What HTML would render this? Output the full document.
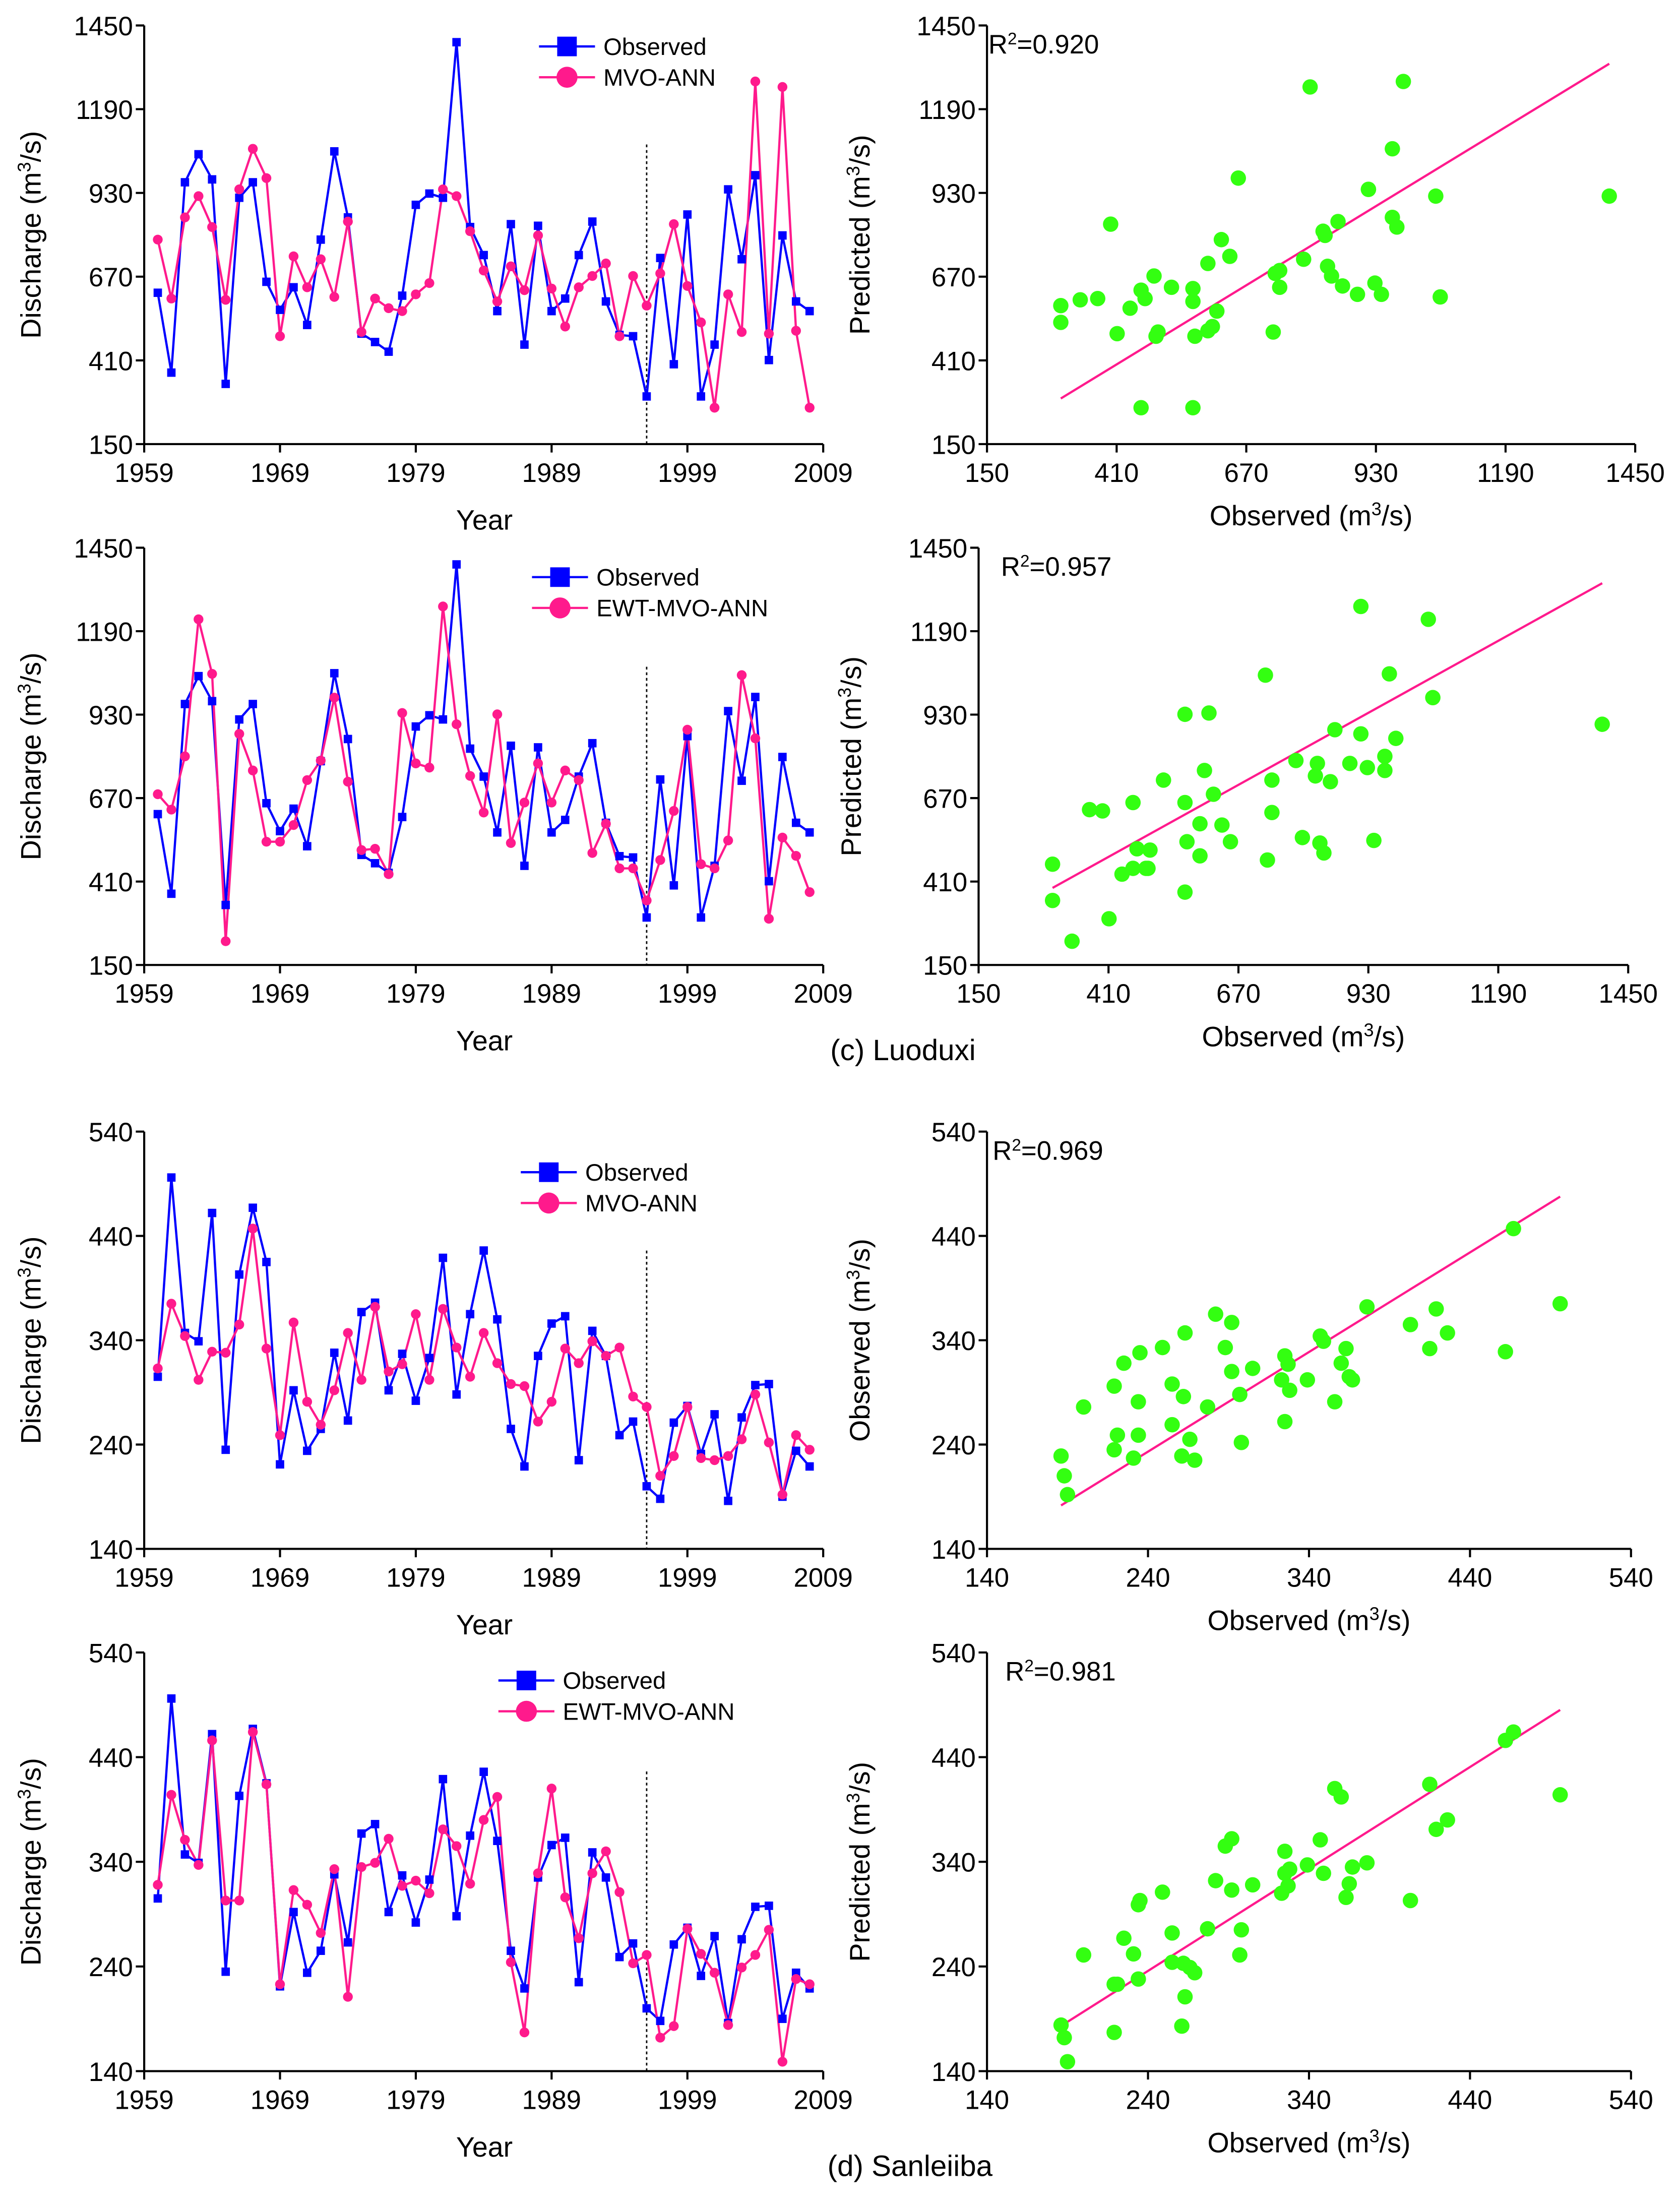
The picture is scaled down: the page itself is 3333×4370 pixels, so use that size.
<!DOCTYPE html>
<html><head><meta charset="utf-8"><style>
html,body{margin:0;padding:0;background:#fff;}
svg{display:block;font-family:"Liberation Sans",Arial,sans-serif;}
</style></head><body>
<svg id="fig" width="3333" height="4370" viewBox="0 0 1200 1573" xmlns="http://www.w3.org/2000/svg">
<rect width="1200" height="1573" fill="#fff"/>
<text x="645" y="757" font-size="21" text-anchor="middle">(c) Luoduxi</text>
<text x="650" y="1554" font-size="21" text-anchor="middle">(d) Sanleiiba</text>
</svg>
<script>
const years = [];
for (let y = 1960; y <= 2008; y++) years.push(y);
const luoObserved = [620,372,963,1050,972,337,915,963,654,567,637,520,785,1059,854,493,467,437,611,893,928,915,1398,824,737,563,833,459,828,563,602,737,841,593,489,485,298,728,398,863,298,459,941,724,985,411,798,593,563];
const luoMvo = [785,602,854,920,824,598,941,1067,976,485,733,637,724,607,841,498,602,572,563,615,650,941,920,811,689,593,702,628,798,633,515,637,672,711,485,672,580,680,833,641,528,263,615,498,1276,493,1259,502,263];
const luoEwt = [682,634,800,1227,1057,224,870,756,534,534,586,726,787,983,721,508,512,433,935,778,765,1267,900,739,625,931,530,656,778,656,756,726,499,590,451,451,351,477,630,883,464,451,538,1053,856,294,547,490,377];
const sanObserved = [305,496,347,339,462,235,403,467,415,221,292,234,255,328,263,367,376,292,327,282,323,419,288,365,426,360,255,219,325,356,363,225,349,325,249,262,200,188,261,277,231,269,186,266,297,298,190,234,219];
const sanMvo = [313,375,344,302,329,328,355,447,332,249,357,281,259,292,347,302,372,310,317,365,302,370,333,305,347,318,298,296,262,281,332,318,339,325,333,286,276,210,229,276,227,225,229,245,288,242,192,249,235];
const sanEwt = [318,404,361,337,456,303,303,464,414,223,313,299,272,333,211,335,339,362,317,322,310,371,355,319,380,402,244,177,329,410,306,267,329,350,311,243,251,172,183,276,252,234,184,239,251,275,149,228,223];
const luoTicks = [150,410,670,930,1190,1450];
const sanTicks = [140,240,340,440,540];
const yearTicks = [1959,1969,1979,1989,1999,2009];
const r2Labels = ["0.920","0.957","0.969","0.981"];
const fitSlopes = [0.945,0.863,0.955,0.974];
const fitIntercepts = [10,133,4,2];

const svg = document.getElementById('fig');
const NS = 'http://www.w3.org/2000/svg';
function mk(tag, attrs, parent){const e=document.createElementNS(NS,tag);for(const k in attrs)e.setAttribute(k,attrs[k]);(parent||svg).appendChild(e);return e;}
function txt(x,y,s,size,anchor,parent){const t=mk('text',{x:x,y:y,'font-size':size,'text-anchor':anchor||'middle'},parent);t.textContent=s;return t;}
function unitLabel(t,pre){t.textContent=pre+' (m';const s=document.createElementNS(NS,'tspan');s.setAttribute('baseline-shift','super');s.setAttribute('font-size','13');s.textContent='3';t.appendChild(s);const s2=document.createElementNS(NS,'tspan');s2.textContent='/s)';t.appendChild(s2);}

function timePanel(name,top,bot,ticks,obs,pred,predName,legX,legY){
  const g=mk('g',{});
  
  
  const x0=103,x1=588,lo=ticks[0],hi=ticks[ticks.length-1];
  const sx=y=>x0+(y-1959)/50*(x1-x0);
  const sy=v=>bot-(v-lo)/(hi-lo)*(bot-top);
  const ax=mk('path',{d:`M${x0},${top}V${bot}H${x1}`,stroke:'#000','stroke-width':1.5,fill:'none'},g);
  
  
  ticks.forEach(v=>{mk('line',{x1:x0-6,x2:x0,y1:sy(v),y2:sy(v),stroke:'#000','stroke-width':1.5},g);
    const t=txt(x0-8,sy(v)+7,String(v),19,'end',g);});
  yearTicks.forEach(y=>{mk('line',{x1:sx(y),x2:sx(y),y1:bot,y2:bot+6,stroke:'#000','stroke-width':1.5},g);
    const t=txt(sx(y),bot+27,String(y),19,'middle',g);});
  const yl=txt(0,0,'',20,'middle',g);unitLabel(yl,'Discharge');yl.setAttribute('transform',`translate(29,${(top+bot)/2}) rotate(-90)`);
  
  const xl=txt(346,bot+61,'Year',20,'middle',g);
  const dl=mk('line',{x1:sx(1996),x2:sx(1996),y1:top+85,y2:bot,stroke:'#000','stroke-width':1,'stroke-dasharray':'2,2'},g);
  
  const op=mk('polyline',{points:obs.map((v,i)=>sx(years[i])+','+sy(v)).join(' '),fill:'none',stroke:'#0000ff','stroke-width':1.6},g);
  
  const pp=mk('polyline',{points:pred.map((v,i)=>sx(years[i])+','+sy(v)).join(' '),fill:'none',stroke:'#ff1a8c','stroke-width':1.6},g);
  
  obs.forEach((v,i)=>{const r=mk('rect',{x:sx(years[i])-3,y:sy(v)-3,width:6,height:6,fill:'#0000ff'},g);
    });
  pred.forEach((v,i)=>{const c=mk('circle',{cx:sx(years[i]),cy:sy(v),r:3.5,fill:'#ff1a8c'},g);
    });
  const l1=mk('g',{},g);
  mk('line',{x1:legX,x2:legX+40,y1:legY,y2:legY,stroke:'#0000ff','stroke-width':1.6},l1);
  mk('rect',{x:legX+13,y:legY-7,width:14,height:14,fill:'#0000ff'},l1);
  txt(legX+46,legY+6,'Observed',17,'start',l1);
  const l2=mk('g',{},g);
  mk('line',{x1:legX,x2:legX+40,y1:legY+22,y2:legY+22,stroke:'#ff1a8c','stroke-width':1.6},l2);
  mk('circle',{cx:legX+20,cy:legY+22,r:7.5,fill:'#ff1a8c'},l2);
  txt(legX+46,legY+28,predName,17,'start',l2);
}

function scatterPanel(name,idx,x0,x1,top,bot,ticks,obs,pred,r2x,yTitle){
  const g=mk('g',{});
  
  
  const lo=ticks[0],hi=ticks[ticks.length-1];
  const sx=v=>x0+(v-lo)/(hi-lo)*(x1-x0);
  const sy=v=>bot-(v-lo)/(hi-lo)*(bot-top);
  const ax=mk('path',{d:`M${x0},${top}V${bot}H${x1}`,stroke:'#000','stroke-width':1.5,fill:'none'},g);
  
  ticks.forEach(v=>{mk('line',{x1:x0-6,x2:x0,y1:sy(v),y2:sy(v),stroke:'#000','stroke-width':1.5},g);
    const t=txt(x0-8,sy(v)+7,String(v),19,'end',g);
    mk('line',{x1:sx(v),x2:sx(v),y1:bot,y2:bot+6,stroke:'#000','stroke-width':1.5},g);
    const t2=txt(sx(v),bot+27,String(v),19,'middle',g);});
  const yl=txt(0,0,'',20,'middle',g);unitLabel(yl,yTitle);yl.setAttribute('transform',`translate(${x0-84},${(top+bot)/2}) rotate(-90)`);
  
  const xl=txt(0,0,'',20,'middle',g);unitLabel(xl,'Observed');xl.setAttribute('x',(x0+x1)/2);xl.setAttribute('y',bot+58);
  
  const b=fitSlopes[idx],a=fitIntercepts[idx];const xa=Math.min(...obs),xb=Math.max(...obs);
  const fl=mk('line',{x1:sx(xa),y1:sy(a+b*xa),x2:sx(xb),y2:sy(a+b*xb),stroke:'#ff1a8c','stroke-width':1.6},g);
  
  obs.forEach((v,i)=>{const c=mk('circle',{cx:sx(v),cy:sy(pred[i]),r:5.5,fill:'#33ff11'},g);
    });
  const rt=mk('text',{x:r2x,y:top+20,'font-size':19},g);rt.textContent='R';
  const s=document.createElementNS(NS,'tspan');s.setAttribute('baseline-shift','super');s.setAttribute('font-size','12');s.textContent='2';rt.appendChild(s);
  const s2=document.createElementNS(NS,'tspan');s2.textContent='='+r2Labels[idx];rt.appendChild(s2);
  
}

timePanel('luoduxi-mvo',18,317,luoTicks,luoObserved,luoMvo,'MVO-ANN',385,33);
scatterPanel('luoduxi-mvo',0,705,1168,18,317,luoTicks,luoObserved,luoMvo,706,'Predicted');
timePanel('luoduxi-ewt',391,689,luoTicks,luoObserved,luoEwt,'EWT-MVO-ANN',380,412);
scatterPanel('luoduxi-ewt',1,699,1163,391,689,luoTicks,luoObserved,luoEwt,715,'Predicted');
timePanel('sanleiiba-mvo',808,1106,sanTicks,sanObserved,sanMvo,'MVO-ANN',372,837);
scatterPanel('sanleiiba-mvo',2,705,1165,808,1106,sanTicks,sanObserved,sanMvo,709,'Observed');
timePanel('sanleiiba-ewt',1180,1479,sanTicks,sanObserved,sanEwt,'EWT-MVO-ANN',356,1200);
scatterPanel('sanleiiba-ewt',3,705,1165,1180,1479,sanTicks,sanObserved,sanEwt,718,'Predicted');
</script>
</body></html>
